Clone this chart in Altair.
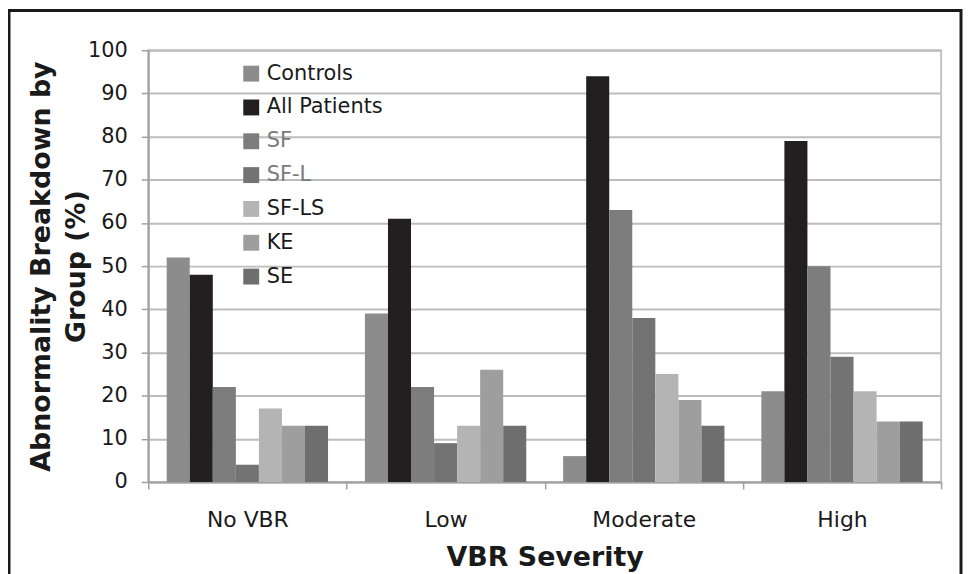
import altair as alt
import pandas as pd

categories = ["No VBR", "Low", "Moderate", "High"]
groups = ["Controls", "All Patients", "SF", "SF-L", "SF-LS", "KE", "SE"]
controls = [52, 39, 6, 21]
all_patients = [48, 61, 94, 79]
sf = [22, 22, 63, 50]
sf_l = [4, 9, 38, 29]
sf_ls = [17, 13, 25, 21]
ke = [13, 26, 19, 14]
se = [13, 13, 13, 14]
colors = ["#8c8c8c", "#231f20", "#7d7d7d", "#737373", "#b4b4b4", "#9e9e9e", "#6e6e6e"]

series = [controls, all_patients, sf, sf_l, sf_ls, ke, se]
rows = []
for g, vals in zip(groups, series):
    for c, v in zip(categories, vals):
        rows.append({"severity": c, "group": g, "value": v})
df = pd.DataFrame(rows)

FONT = "DejaVu Sans"

bars = alt.Chart(df).mark_bar(stroke=None).encode(
    x=alt.X(
        "severity:N",
        sort=categories,
        scale=alt.Scale(paddingInner=0, paddingOuter=0),
        axis=alt.Axis(
            title="VBR Severity",
            titleFontSize=27,
            titleFont=FONT,
            titleFontWeight="bold",
            titleColor="#1a1a1a",
            titlePadding=14,
            labelAngle=0,
            labelFontSize=22,
            labelFont=FONT,
            labelColor="#1a1a1a",
            labelPadding=21,
            tickBand="extent",
            tickSize=7,
            tickColor="#a0a0a0",
            tickWidth=1.5,
            domainColor="#a0a0a0",
            domainWidth=2,
            grid=False,
        ),
    ),
    xOffset=alt.XOffset(
        "group:N",
        sort=groups,
        scale=alt.Scale(paddingInner=0, paddingOuter=0.8),
    ),
    y=alt.Y(
        "value:Q",
        scale=alt.Scale(domain=[0, 100], nice=False),
        axis=alt.Axis(
            title=["Abnormality Breakdown by", "Group (%)"],
            titleFontSize=27,
            titleFont=FONT,
            titleFontWeight="bold",
            titleColor="#1a1a1a",
            titleLineHeight=35,
            titlePadding=-3,
            values=list(range(0, 101, 10)),
            labelFontSize=21,
            labelFont=FONT,
            labelColor="#1a1a1a",
            labelPadding=14,
            tickSize=7,
            tickColor="#a0a0a0",
            tickWidth=1.5,
            domainColor="#a0a0a0",
            domainWidth=2,
            gridColor="#bdbdbd",
            gridWidth=2,
        ),
    ),
    color=alt.Color(
        "group:N",
        sort=groups,
        scale=alt.Scale(domain=groups, range=colors),
        legend=alt.Legend(
            title=None,
            orient="none",
            legendX=93,
            legendY=13,
            symbolType="square",
            symbolSize=256,
            symbolStrokeWidth=0,
            labelFontSize=21,
            labelFont=FONT,
            labelColor={"expr": "datum.label == 'SF' || datum.label == 'SF-L' ? '#7a7a7a' : '#1a1a1a'"},
            labelOffset=5,
            rowPadding=12,
        ),
    ),
)

frame = alt.Chart(alt.Data(values=[{}])).mark_rect(
    fill=None, stroke="#1a1a1a", strokeWidth=3
).encode(
    x=alt.value(-140),
    x2=alt.value(817),
    y=alt.value(-40),
    y2=alt.value(620),
)

chart = alt.layer(bars, frame).properties(
    width=797,
    height=434,
    autosize=alt.AutoSizeParams(type="none"),
    padding={"left": 141, "top": 41, "right": 22, "bottom": 91},
    background="white",
).configure_view(stroke="#c4c4c4", strokeWidth=2)

chart.save("out.html", embed_options={"renderer": "svg", "actions": False})
